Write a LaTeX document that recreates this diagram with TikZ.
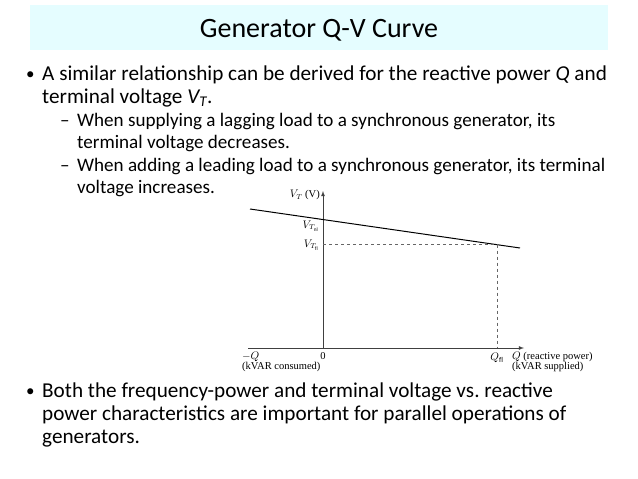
\documentclass[tikz,border=0pt]{standalone}
\usepackage{fontspec}
\setmainfont{Carlito}
\newfontfamily\tnr{Liberation Serif}
\frenchspacing
\tikzset{
 body/.style={anchor=base west,inner sep=0pt,font=\fontsize{21.2}{24}\selectfont},
 sub/.style={anchor=base west,inner sep=0pt,font=\fontsize{19.1}{22}\selectfont},
 bul/.style={anchor=base west,inner sep=0pt,font=\fontsize{17}{20}\selectfont},
 lab/.style={inner sep=0pt,font=\tnr\fontsize{10.5}{12}\selectfont},
 axis/.style={draw=black!75,line width=0.8pt},
 guide/.style={draw=black!60,dashed,line width=0.8pt}
}
\begin{document}
\begin{tikzpicture}[x=1pt,y=-1pt]
\useasboundingbox (0,0) rectangle (638,479);
\fill[blue!8!cyan!10] (30,5) rectangle (608,50);
\node[inner sep=0pt,font=\fontsize{28}{32}\selectfont] (title) at (319,30) {Generator Q-V Curve};
\node[bul] (b1) at (26,79) {•};
\node[body] (l1) at (42,80) {A similar relationship can be derived for the reactive power \textit{Q} and};
\node[body] (l2) at (42,103) {terminal voltage \textit{V\textsubscript{T}}.};
\node[sub] (d1) at (60,126) {–};
\node[sub] (s1) at (77,126) {When supplying a lagging load to a synchronous generator, its};
\node[sub] (s2) at (77,148) {terminal voltage decreases.};
\node[sub] (d2) at (60,171) {–};
\node[sub] (s3) at (77,171) {When adding a leading load to a synchronous generator, its terminal};
\node[sub] (s4) at (77,193) {voltage increases.};
\node[bul] (b2) at (26,396) {•};
\node[body] (m1) at (42,397) {Both the frequency-power and terminal voltage vs. reactive};
\node[body] (m2) at (42,420) {power characteristics are important for parallel operations of};
\node[body] (m3) at (42,443) {generators.};
% graph
\coordinate (O) at (323,348);
\coordinate (ytop) at (323,191);
\coordinate (xl) at (248,348);
\coordinate (xr) at (524,348);
\draw[axis,-latex] (O) -- (ytop);
\draw[axis,-latex] (xl) -- (xr);
\coordinate (c1) at (250,209);
\coordinate (c2) at (520,248);
\draw[line width=1pt] (c1) -- (c2);
\coordinate (F) at (497,244.7);
\coordinate (Fy) at (323,244.7);
\coordinate (Fx) at (497,348);
\draw[guide] (Fy) -- (F) -- (Fx);
\node[lab,anchor=east] (vt) at (320,195) {$V_T$ (V)};
\node[lab,anchor=east] (vnl) at (319,226) {$V_{T_{\rm nl}}$};
\node[lab,anchor=east] (vfl) at (319,245) {$V_{T_{\rm fl}}$};
\node[lab] (zero) at (323,356) {0};
\node[lab,anchor=west] (mq) at (242,357) {$-Q$};
\node[lab,anchor=west] (kc) at (242,367) {(kVAR consumed)};
\node[lab] (qfl) at (497,358) {$Q_{\rm fl}$};
\node[lab,anchor=west] (q) at (512,357) {$Q$ (reactive power)};
\node[lab,anchor=west] (ks) at (512,367) {(kVAR supplied)};
\end{tikzpicture}
\end{document}
